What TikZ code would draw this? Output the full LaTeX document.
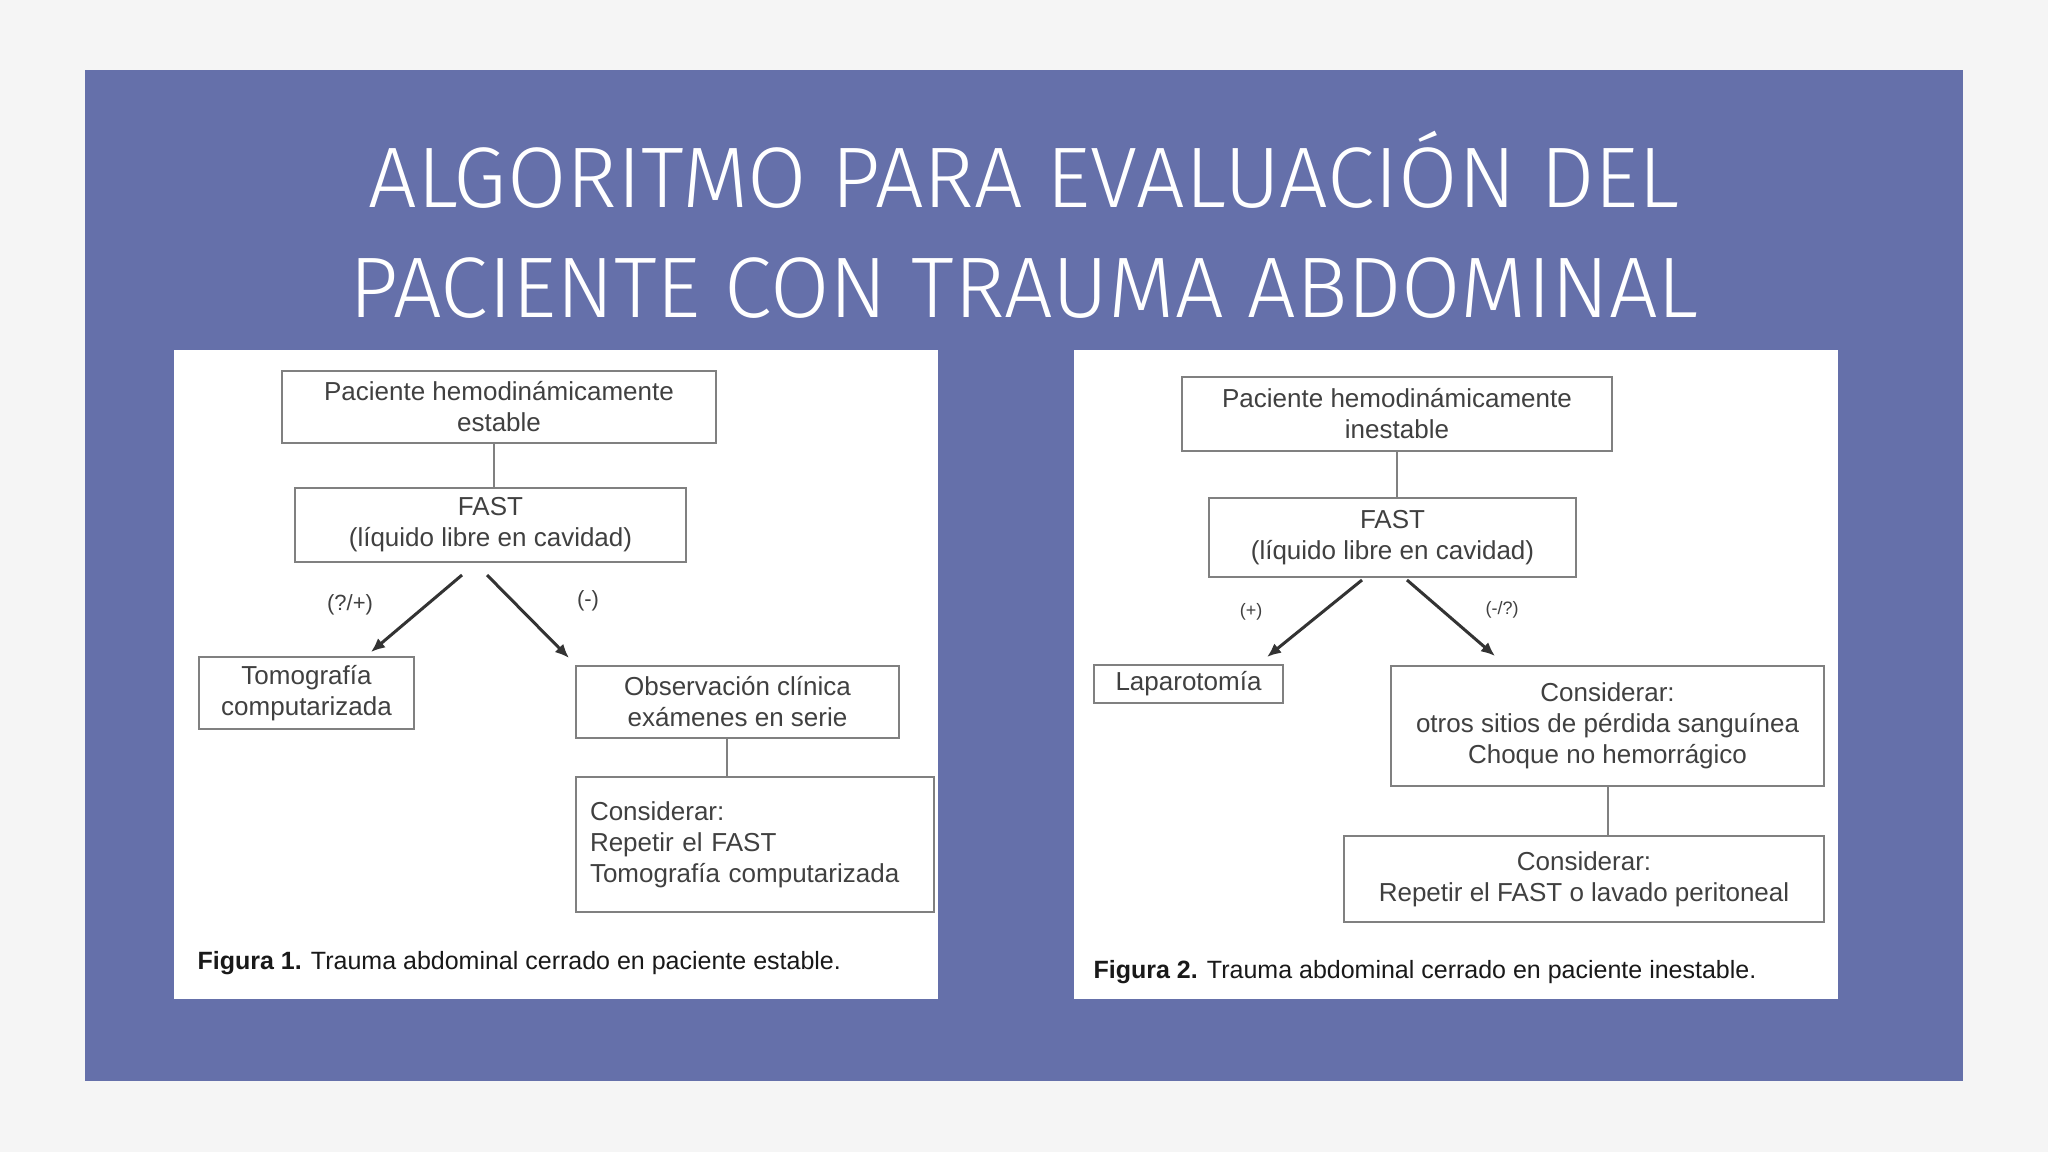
\documentclass[tikz,border=0pt]{standalone}
\usepackage{fontspec}
\setmainfont{Liberation Sans}
\newfontfamily\titlefont{Fira Sans Light}
\usetikzlibrary{arrows.meta}
\definecolor{bgg}{HTML}{F5F5F5}
\definecolor{panel}{HTML}{6570AA}
\definecolor{txt}{HTML}{404040}
\definecolor{bord}{HTML}{808080}
\tikzset{
  bx/.style={draw=bord,line width=2.2pt,fill=white,text=txt,font=\fontsize{26}{31}\selectfont,align=center,inner sep=0pt},
  ln/.style={draw=bord,line width=2.2pt},
  ar/.style={draw=black!80,line width=3pt,-{Latex[length=14pt,width=12pt]}},
  lab/.style={text=txt,font=\fontsize{22}{26}\selectfont},
  captxt/.style={text=black!90,font=\fontsize{25}{30}\selectfont,anchor=west}
}
\begin{document}
\begin{tikzpicture}[x=1pt,y=-1pt]
\fill[bgg] (0,0) rectangle (2048,1152);
\useasboundingbox (0,0) rectangle (2048,1152);
\fill[panel] (85,70) rectangle (1963,1081);
\node[text=white,font=\titlefont\fontsize{86}{110}\selectfont,align=center] (title) at (1024,225) {ALGORITMO PARA EVALUACIÓN DEL\\PACIENTE CON TRAUMA ABDOMINAL};
\fill[white] (174,350) rectangle (938,999);
\fill[white] (1074,350) rectangle (1838,999);
% left figure
\node[bx,minimum width=434,minimum height=72] (b1) at (499,407) {Paciente hemodinámicamente\\estable};
\node[bx,minimum width=391,minimum height=74] (b2) at (490.5,525) {FAST\\(líquido libre en cavidad)};
\node[bx,minimum width=215,minimum height=72] (b3) at (306.5,693) {Tomografía\\computarizada};
\node[bx,minimum width=323,minimum height=72] (b4) at (737.5,702) {Observación clínica\\exámenes en serie};
\node[bx,minimum width=358,minimum height=135,align=left,text width=330] (b5) at (755,844.5) {Considerar:\\Repetir el FAST\\Tomografía computarizada};
\draw[ln] (494,443) -- (494,488);
\draw[ln] (727,738) -- (727,777);
\coordinate (l1) at (462,575); \coordinate (l2) at (371,652);
\coordinate (r1) at (487,575); \coordinate (r2) at (569,658);
\draw[ar] (l1) -- (l2);
\draw[ar] (r1) -- (r2);
\node[lab] (la1) at (350,605) {(?/+)};
\node[lab] (la2) at (588,601) {(-)};
\node[captxt] (cap1) at (194,963) {\textbf{Figura 1.} Trauma abdominal cerrado en paciente estable.};
% right figure
\node[bx,minimum width=430,minimum height=74] (c1) at (1397,414) {Paciente hemodinámicamente\\inestable};
\node[bx,minimum width=367,minimum height=79] (c2) at (1392.5,537.5) {FAST\\(líquido libre en cavidad)};
\node[bx,minimum width=189,minimum height=38] (c3) at (1188.5,684) {Laparotomía};
\node[bx,minimum width=433,minimum height=120] (c4) at (1607.5,726) {Considerar:\\otros sitios de pérdida sanguínea\\Choque no hemorrágico};
\node[bx,minimum width=480,minimum height=86] (c5) at (1584,879) {Considerar:\\Repetir el FAST o lavado peritoneal};
\draw[ln] (1397,451) -- (1397,498);
\draw[ln] (1608,786) -- (1608,836);
\coordinate (m1) at (1362,580); \coordinate (m2) at (1267,657);
\coordinate (n1) at (1407,580); \coordinate (n2) at (1495,656);
\draw[ar] (m1) -- (m2);
\draw[ar] (n1) -- (n2);
\node[lab,font=\fontsize{18}{22}\selectfont] (lb1) at (1251,612) {(+)};
\node[lab,font=\fontsize{18}{22}\selectfont] (lb2) at (1502,610) {(-/?)};
\node[captxt] (cap2) at (1090,972) {\textbf{Figura 2.} Trauma abdominal cerrado en paciente inestable.};
\end{tikzpicture}
\end{document}
